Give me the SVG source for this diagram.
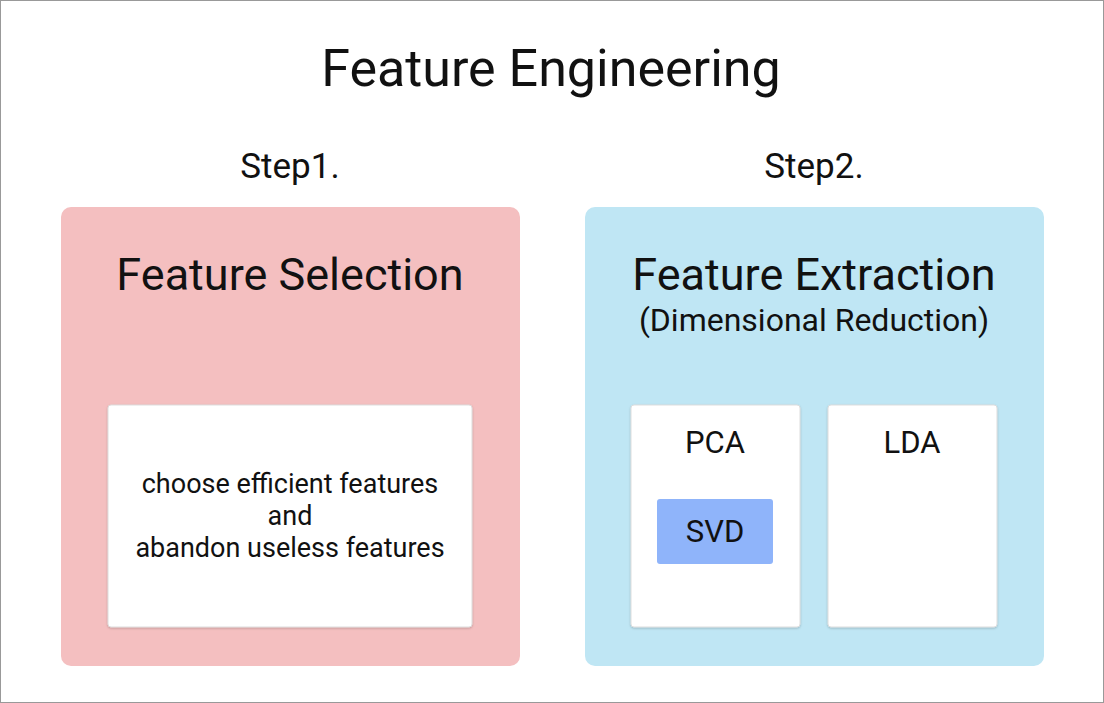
<svg xmlns="http://www.w3.org/2000/svg" width="1104" height="703" viewBox="0 0 1104 703">
<style>
text{font-family:Roboto,"Liberation Sans",sans-serif;fill:#111;text-anchor:middle}
.card{fill:#fff;stroke:#ddd;stroke-width:1}
</style>
<defs><filter id="sh" x="-5%" y="-5%" width="110%" height="110%"><feDropShadow dx="0" dy="1" stdDeviation="1" flood-opacity="0.2"/></filter></defs>
<rect x="0.5" y="0.5" width="1103" height="702" fill="#fff" stroke="#999"/>
<text x="551" y="86" font-size="52">Feature Engineering</text>
<g id="step1"><text x="290" y="178" font-size="35">Step1.</text></g>
<g id="step2"><text x="814" y="178" font-size="35">Step2.</text></g>
<g id="selection">
<rect x="61" y="207" width="459" height="459" rx="10" fill="#f4bfc0"/>
<text x="290" y="290" font-size="45">Feature Selection</text>
</g>
<g id="selection-desc">
<rect class="card" x="108" y="405" width="364" height="222" rx="3" filter="url(#sh)"/>
<text x="290" y="493" font-size="27">choose efficient features</text>
<text x="290" y="525" font-size="27">and</text>
<text x="290" y="557" font-size="27">abandon useless features</text>
</g>
<g id="extraction">
<rect x="585" y="207" width="459" height="459" rx="10" fill="#bfe6f4"/>
<text x="814" y="290" font-size="45">Feature Extraction</text>
<text x="814" y="331" font-size="32">(Dimensional Reduction)</text>
</g>
<g id="pca">
<rect class="card" x="631" y="405" width="169" height="222" rx="3" filter="url(#sh)"/>
<text x="715" y="453" font-size="31">PCA</text>
</g>
<g id="svd">
<rect x="657" y="499" width="116" height="65" rx="3" fill="#8fb4fa"/>
<text x="715" y="542" font-size="31">SVD</text>
</g>
<g id="lda">
<rect class="card" x="828" y="405" width="169" height="222" rx="3" filter="url(#sh)"/>
<text x="912" y="453" font-size="31">LDA</text>
</g>
<g id="connectors"/>
</svg>
